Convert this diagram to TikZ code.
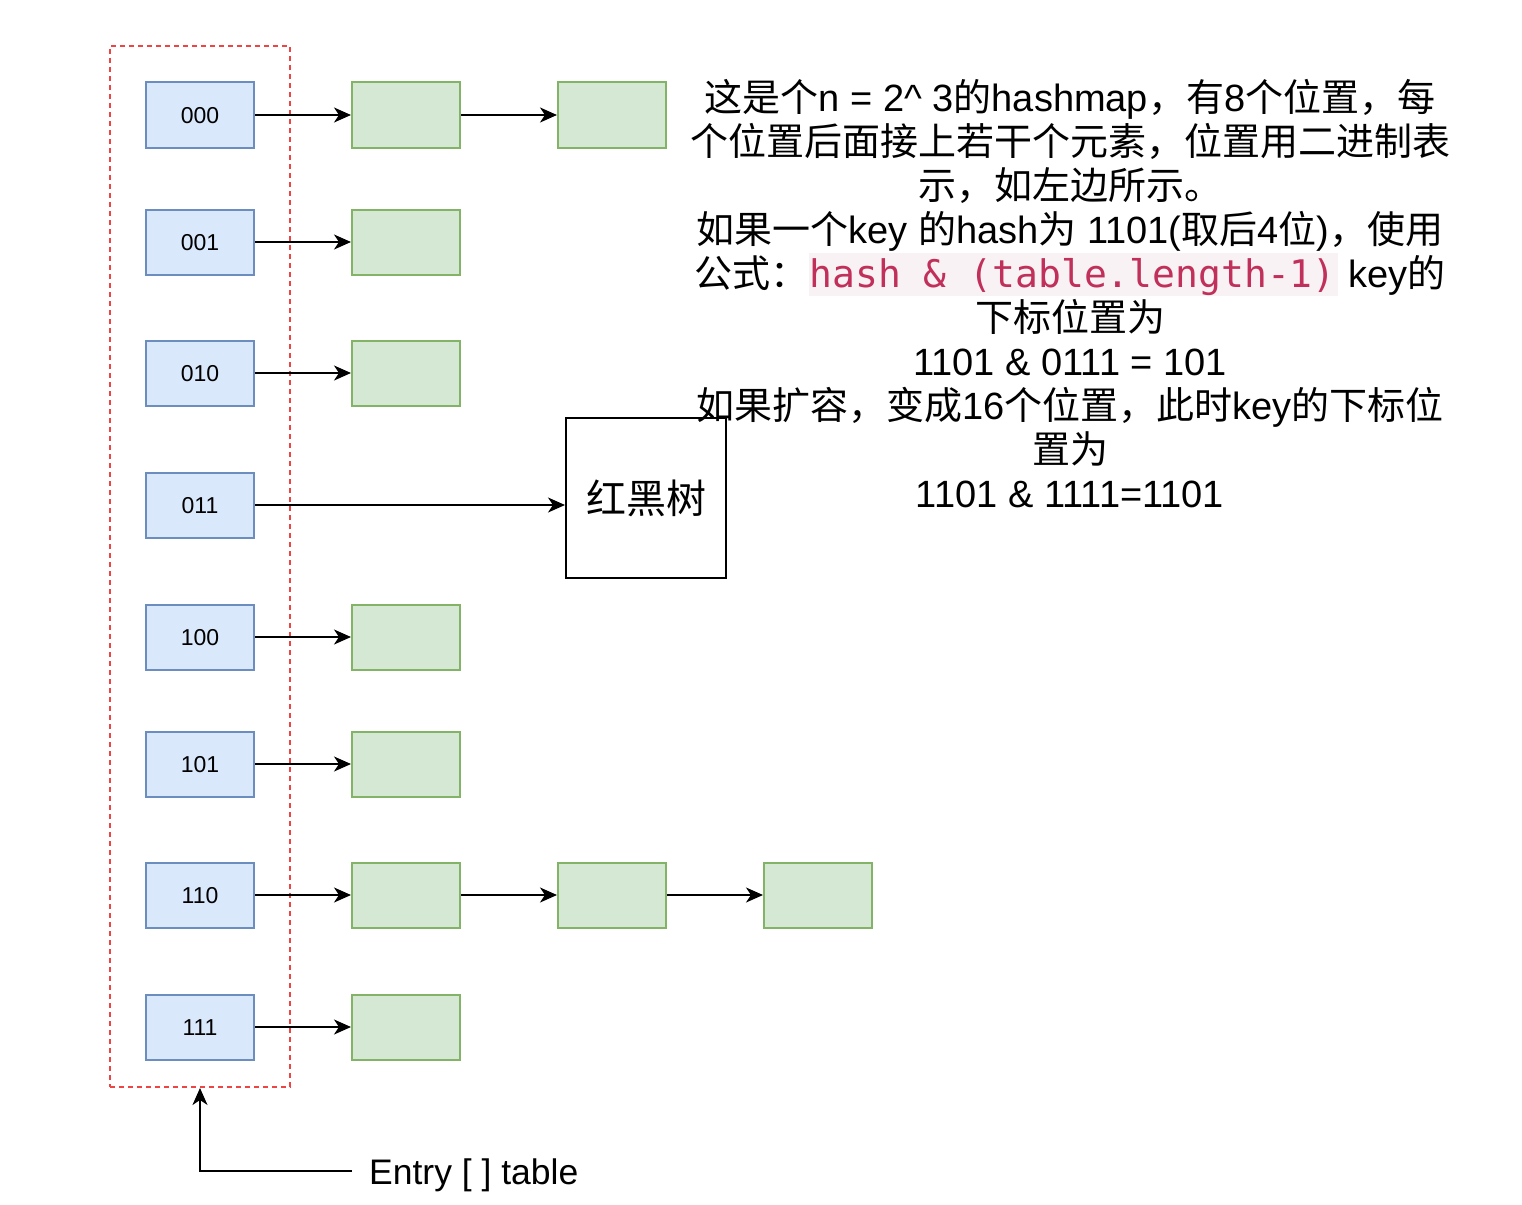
\documentclass[tikz,border=0pt]{standalone}
\usepackage{fontspec}
\setmainfont{Liberation Sans}
\newfontfamily\cjk{Noto Sans CJK SC}
\newfontfamily\codefont{DejaVu Sans Mono}
\usetikzlibrary{arrows.meta}
\definecolor{bluefill}{HTML}{DAE8FC}
\definecolor{blueline}{HTML}{6C8EBF}
\definecolor{greenfill}{HTML}{D5E8D4}
\definecolor{greenline}{HTML}{82B366}
\definecolor{reddash}{HTML}{EE4444}
\definecolor{codefg}{HTML}{C0305A}
\definecolor{codebg}{HTML}{F9F2F4}
\newcommand\codehl[1]{\smash{\setlength{\fboxsep}{0pt}\colorbox{codebg}{\kern1pt\rule[-8pt]{0pt}{42pt}{\codefont\color{codefg}#1}\kern2pt}}}
\newcommand\desctype{\fontsize{38}{44}\selectfont\setlength{\lineskiplimit}{-100pt}\setlength{\lineskip}{0pt}}
\tikzset{
  slot/.style={draw=blueline, fill=bluefill, line width=2pt, minimum width=108pt, minimum height=65pt, inner sep=0pt, text height=16.5pt, text depth=-3pt, font=\fontsize{23}{27}\selectfont},
  elem/.style={draw=greenline, fill=greenfill, line width=2pt, minimum width=108pt, minimum height=65pt, inner sep=0pt},
  arr/.style={line width=2pt, -{Stealth[length=17pt,width=15pt,inset=5pt]}},
}
\begin{document}
\begin{tikzpicture}[x=1pt,y=-1pt]
\useasboundingbox (0,0) rectangle (1522,1204);
\node[draw=reddash, line width=2pt, dash pattern=on 5pt off 4pt, minimum width=180pt, minimum height=1041pt, inner sep=0pt] (table) at (200,566.5) {};
% slots
\node[slot] (b0) at (200,115) {000};
\node[slot] (b1) at (200,242) {001};
\node[slot] (b2) at (200,373) {010};
\node[slot] (b3) at (200,505) {011};
\node[slot] (b4) at (200,637) {100};
\node[slot] (b5) at (200,764) {101};
\node[slot] (b6) at (200,895) {110};
\node[slot] (b7) at (200,1027) {111};
% elements
\node[elem] (g00) at (406,115) {};
\node[elem] (g01) at (612,115) {};
\node[elem] (g1) at (406,242) {};
\node[elem] (g2) at (406,373) {};
\node[elem] (g4) at (406,637) {};
\node[elem] (g5) at (406,764) {};
\node[elem] (g60) at (406,895) {};
\node[elem] (g61) at (612,895) {};
\node[elem] (g62) at (818,895) {};
\node[elem] (g7) at (406,1027) {};
\node[draw, line width=2pt, minimum width=160pt, minimum height=160pt, inner sep=0pt, font=\cjk\fontsize{40}{46}\selectfont] (rbt) at (646,498) {红黑树};
% arrows
\draw[arr] (b0) -- (g00);
\draw[arr] (g00) -- (g01);
\draw[arr] (b1) -- (g1);
\draw[arr] (b2) -- (g2);
\draw[arr] (b3.east) -- (b3.east -| rbt.west);
\draw[arr] (b4) -- (g4);
\draw[arr] (b5) -- (g5);
\draw[arr] (b6) -- (g60);
\draw[arr] (g60) -- (g61);
\draw[arr] (g61) -- (g62);
\draw[arr] (b7) -- (g7);
% entry label
\node[anchor=west, inner xsep=17pt, inner ysep=0pt, text height=30pt, text depth=4pt, font=\fontsize{35.5}{40}\selectfont] (lbl) at (352,1171) {Entry [ ] table};
\draw[arr] (lbl.west) -| (table.south);
% description
\node[align=center, inner sep=0pt, font=\desctype] (desc) at (1070,300) {%
\strut{\cjk 这是个}n = 2\textasciicircum{} 3{\cjk 的}hashmap{\cjk ，有}8{\cjk 个位置，每}\\
\strut{\cjk 个位置后面接上若干个元素，位置用二进制表}\\
\strut{\cjk 示，如左边所示。}\\
\strut{\cjk 如果一个}key {\cjk 的}hash{\cjk 为} 1101({\cjk 取后}4{\cjk 位}){\cjk ，使用}\\
\strut{\cjk 公式：}\codehl{hash \& (table.length-1)} key{\cjk 的}\\
\strut{\cjk 下标位置为}\\
\strut 1101 \& 0111 = 101\\
\strut{\cjk 如果扩容，变成}16{\cjk 个位置，此时}key{\cjk 的下标位}\\
\strut{\cjk 置为}\\
\strut 1101 \& 1111=1101};
\end{tikzpicture}
\end{document}
